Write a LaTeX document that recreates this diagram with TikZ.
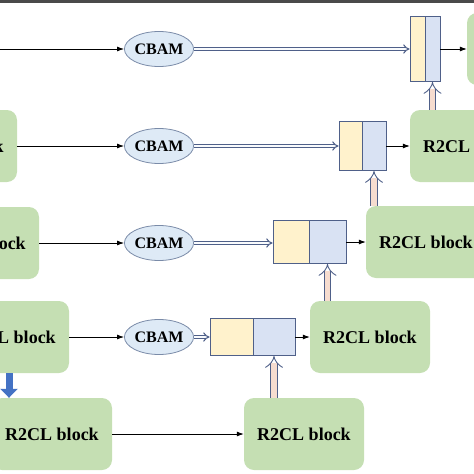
\documentclass[tikz,border=0pt]{standalone}
\usepackage{fontspec}
\setmainfont{Liberation Serif}
\usetikzlibrary{arrows.meta,shapes.geometric}

\definecolor{blockgreen}{HTML}{C5DFB3}
\definecolor{cbamfill}{HTML}{DEEAF6}
\definecolor{cbamline}{HTML}{7A8BA8}
\definecolor{catyellow}{HTML}{FFF2CC}
\definecolor{catblue}{HTML}{D9E2F3}
\definecolor{catline}{HTML}{4F6089}
\definecolor{skipfill}{HTML}{F6DCCF}
\definecolor{downblue}{HTML}{4472C4}
\definecolor{topbar}{HTML}{4A4A4A}

\begin{document}
\begin{tikzpicture}[x = 1pt, y = -1pt,
  block/.style = {fill = blockgreen, rounded corners = 10pt, minimum width = 120pt, minimum height = 72pt, font = \fontsize{18}{21}\selectfont\bfseries},
  cbam/.style = {ellipse, draw = cbamline, fill = cbamfill, line width = 0.8pt, minimum width = 67pt, minimum height = 35pt, inner sep = 0pt, font = \fontsize{16}{19}\selectfont\bfseries},
  catyel/.style = {draw = catline, fill = catyellow, line width = 0.9pt, inner sep = 0pt},
  catblu/.style = {draw = catline, fill = catblue, line width = 0.9pt, inner sep = 0pt},
  flow/.style = {line width = 0.8pt, -{Latex[length = 7pt, width = 5pt]}},
  attn/.style = {draw = catline, line width = 1.1pt, double = white!85!catblue, double distance = 2pt, -{Implies}},
  skip/.style = {draw = catline, line width = 0.9pt, double = skipfill, double distance = 5.5pt, -{Implies}},
  down/.style = {draw = downblue, line width = 7pt, -{Triangle[length = 9pt, width = 17pt]}}]

  \useasboundingbox (0, 0) rectangle (474, 474);
  \clip (0, 0) rectangle (474, 474);
  \fill [topbar] (0, 0) rectangle (474, 3);

  \coordinate (in1) at (0, 49);
  \node [cbam] (e1) at (159, 49) {CBAM};
  \node [catyel, minimum width = 15pt, minimum height = 65pt] (c1y) at (417.5, 49) {};
  \node [catblu, minimum width = 15pt, minimum height = 65pt] (c1b) at (432.5, 49) {};
  \node [block] (r1) at (527, 49) {R2CL block};

  \node [block] (l2) at (-43, 146) {R2CL block};
  \node [cbam] (e2) at (159, 146) {CBAM};
  \node [catyel, minimum width = 23pt, minimum height = 49pt] (c2y) at (350.5, 146) {};
  \node [catblu, minimum width = 24pt, minimum height = 49pt] (c2b) at (374, 146) {};
  \node [block] (r2) at (470, 146) {R2CL block};

  \node [block] (l3) at (-21, 243) {R2CL block};
  \node [cbam] (e3) at (159, 243) {CBAM};
  \node [catyel, minimum width = 36pt, minimum height = 43pt] (c3y) at (291, 242) {};
  \node [catblu, minimum width = 37pt, minimum height = 43pt] (c3b) at (327.5, 242) {};
  \node [block] (r3) at (426, 242) {R2CL block};

  \node [block] (l4) at (9, 337) {R2CL block};
  \node [cbam] (e4) at (159, 337) {CBAM};
  \node [catyel, minimum width = 43pt, minimum height = 37pt] (c4y) at (231.5, 337) {};
  \node [catblu, minimum width = 42pt, minimum height = 37pt] (c4b) at (274, 337) {};
  \node [block] (r4) at (370, 337) {R2CL block};

  \node [block] (l5) at (52, 434) {R2CL block};
  \node [block] (r5) at (304, 434) {R2CL block};

  \draw [flow] (in1) -- (e1);
  \draw [flow] (l2) -- (e2);
  \draw [flow] (l3.east |- e3) -- (e3);
  \draw [flow] (l4) -- (e4);
  \draw [flow] (l5) -- (r5);

  \draw [attn] (e1) -- (c1y);
  \draw [attn] (e2) -- (c2y);
  \draw [attn] (e3.east) -- (c3y.west |- e3);
  \draw [attn] (e4) -- (c4y);

  \draw [flow] (c1b) -- (r1);
  \draw [flow] (c2b) -- (r2);
  \draw [flow] (c3b) -- (r3);
  \draw [flow] (c4b) -- (r4);

  \draw [skip] (r2.north -| c1b.south) -- (c1b.south);
  \draw [skip] (r3.north -| c2b.south) -- (c2b.south);
  \draw [skip] (r4.north -| c3b.south) -- (c3b.south);
  \draw [skip] (r5.north -| c4b.south) -- (c4b.south);

  \draw [down] (l4.south) -- (l4.south |- l5.north);

\end{tikzpicture}
\end{document}
